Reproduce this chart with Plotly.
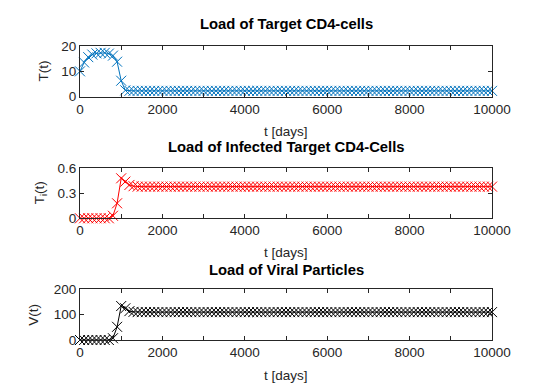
import plotly.graph_objects as go

# sample times (days)
t_days = [
    0, 100, 200, 300, 400, 500, 600, 700, 800, 900,
    1000, 1100, 1200, 1300, 1400, 1500, 1600, 1700, 1800, 1900,
    2000, 2100, 2200, 2300, 2400, 2500, 2600, 2700, 2800, 2900,
    3000, 3100, 3200, 3300, 3400, 3500, 3600, 3700, 3800, 3900,
    4000, 4100, 4200, 4300, 4400, 4500, 4600, 4700, 4800, 4900,
    5000, 5100, 5200, 5300, 5400, 5500, 5600, 5700, 5800, 5900,
    6000, 6100, 6200, 6300, 6400, 6500, 6600, 6700, 6800, 6900,
    7000, 7100, 7200, 7300, 7400, 7500, 7600, 7700, 7800, 7900,
    8000, 8100, 8200, 8300, 8400, 8500, 8600, 8700, 8800, 8900,
    9000, 9100, 9200, 9300, 9400, 9500, 9600, 9700, 9800, 9900,
    10000,
]

# target CD4 cells T(t)
target_cells = [
    10.0, 13.5, 15.6, 16.6, 17.1, 17.3, 17.3, 17.0, 16.2, 13.8,
    6.3, 2.5, 2.3, 2.3, 2.3, 2.3, 2.3, 2.3, 2.3, 2.3,
    2.3, 2.3, 2.3, 2.3, 2.3, 2.3, 2.3, 2.3, 2.3, 2.3,
    2.3, 2.3, 2.3, 2.3, 2.3, 2.3, 2.3, 2.3, 2.3, 2.3,
    2.3, 2.3, 2.3, 2.3, 2.3, 2.3, 2.3, 2.3, 2.3, 2.3,
    2.3, 2.3, 2.3, 2.3, 2.3, 2.3, 2.3, 2.3, 2.3, 2.3,
    2.3, 2.3, 2.3, 2.3, 2.3, 2.3, 2.3, 2.3, 2.3, 2.3,
    2.3, 2.3, 2.3, 2.3, 2.3, 2.3, 2.3, 2.3, 2.3, 2.3,
    2.3, 2.3, 2.3, 2.3, 2.3, 2.3, 2.3, 2.3, 2.3, 2.3,
    2.3, 2.3, 2.3, 2.3, 2.3, 2.3, 2.3, 2.3, 2.3, 2.3,
    2.3,
]

# infected target cells Ti(t)
infected_cells = [
    0.0, 0.0, 0.0, 0.0, 0.0, 0.0, 0.0, 0.0, 0.03, 0.18,
    0.48, 0.44, 0.40, 0.385, 0.38, 0.38, 0.38, 0.38, 0.38, 0.38,
    0.38, 0.38, 0.38, 0.38, 0.38, 0.38, 0.38, 0.38, 0.38, 0.38,
    0.38, 0.38, 0.38, 0.38, 0.38, 0.38, 0.38, 0.38, 0.38, 0.38,
    0.38, 0.38, 0.38, 0.38, 0.38, 0.38, 0.38, 0.38, 0.38, 0.38,
    0.38, 0.38, 0.38, 0.38, 0.38, 0.38, 0.38, 0.38, 0.38, 0.38,
    0.38, 0.38, 0.38, 0.38, 0.38, 0.38, 0.38, 0.38, 0.38, 0.38,
    0.38, 0.38, 0.38, 0.38, 0.38, 0.38, 0.38, 0.38, 0.38, 0.38,
    0.38, 0.38, 0.38, 0.38, 0.38, 0.38, 0.38, 0.38, 0.38, 0.38,
    0.38, 0.38, 0.38, 0.38, 0.38, 0.38, 0.38, 0.38, 0.38, 0.38,
    0.38,
]

# viral particles V(t)
viral_particles = [
    0, 0, 0, 0, 0, 0, 0, 0, 7, 52,
    134, 125, 114, 111, 110, 110, 110, 110, 110, 110,
    110, 110, 110, 110, 110, 110, 110, 110, 110, 110,
    110, 110, 110, 110, 110, 110, 110, 110, 110, 110,
    110, 110, 110, 110, 110, 110, 110, 110, 110, 110,
    110, 110, 110, 110, 110, 110, 110, 110, 110, 110,
    110, 110, 110, 110, 110, 110, 110, 110, 110, 110,
    110, 110, 110, 110, 110, 110, 110, 110, 110, 110,
    110, 110, 110, 110, 110, 110, 110, 110, 110, 110,
    110, 110, 110, 110, 110, 110, 110, 110, 110, 110,
    110,
]

panel_titles = [
    "Load of Target CD4-cells",
    "Load of Infected Target CD4-Cells",
    "Load of Viral Particles",
]
y_labels = ["T(t)", "T<sub>i</sub>(t)", "V(t)"]
y_ticks = [[0, 10, 20], [0, 0.3, 0.6], [0, 100, 200]]

FONT = "Liberation Sans, Arial, sans-serif"
GREY = "#262626"

series = [target_cells, infected_cells, viral_particles]
colors = ["#0072BD", "#FF0000", "#000000"]
domains = [[0.8276, 1.0], [0.414, 0.584], [0.0, 0.1724]]

fig = go.Figure()

axis_common = dict(
    showline=True,
    linecolor=GREY,
    linewidth=1,
    mirror="ticks",
    ticks="inside",
    ticklen=4,
    tickwidth=1,
    tickcolor=GREY,
    showgrid=False,
    zeroline=False,
    tickfont=dict(family=FONT, size=13.5, color=GREY),
)

for i, (ys, col) in enumerate(zip(series, colors)):
    n = "" if i == 0 else str(i + 1)
    fig.add_trace(
        go.Scatter(
            x=t_days,
            y=ys,
            mode="lines+markers",
            xaxis=f"x{n}",
            yaxis=f"y{n}",
            line=dict(color=col, width=1),
            marker=dict(
                symbol="x-thin",
                size=10,
                line=dict(color=col, width=1),
            ),
            showlegend=False,
            cliponaxis=False,
        )
    )

    fig.update_layout(
        {
            f"xaxis{n}": dict(
                axis_common,
                domain=[0, 1],
                anchor=f"y{n}",
                range=[0, 10000],
                tick0=0,
                dtick=2000,
                tickformat="d",
                minor=dict(
                    dtick=1000,
                    ticks="inside",
                    ticklen=4,
                    tickcolor=GREY,
                    showgrid=False,
                ),
            ),
            f"yaxis{n}": dict(
                axis_common,
                domain=domains[i],
                anchor=f"x{n}",
                range=[y_ticks[i][0], y_ticks[i][-1]],
                tickvals=y_ticks[i],
            ),
        }
    )

# page is shown with an 8px body margin, so pixel positions below are page
# coordinates of the reference; the plot area spans x 80..492, y 46..340
plot_left, plot_right = 80, 492
plot_top, plot_bottom = 46, 340

title_y = [24, 147, 269.5]
xlabel_y = [131.5, 252.5, 375]
ylabel_x = [43, 40, 34]
centers = [71.5, 193.3, 314.7]


def to_paper_y(py):
    return (plot_bottom - py) / (plot_bottom - plot_top)


def to_paper_x(px):
    return (px - plot_left) / (plot_right - plot_left)


annotations = []
for i in range(3):
    annotations.append(dict(
        text=f"<b>{panel_titles[i]}</b>",
        x=0.5, xref="paper", xanchor="center",
        y=to_paper_y(title_y[i]), yref="paper", yanchor="middle",
        showarrow=False,
        borderpad=0,
        font=dict(family=FONT, size=14.8, color="#000000"),
    ))
    annotations.append(dict(
        text="t [days]",
        x=0.5, xref="paper", xanchor="center",
        y=to_paper_y(xlabel_y[i]), yref="paper", yanchor="middle",
        showarrow=False,
        borderpad=0,
        font=dict(family=FONT, size=13.5, color=GREY),
    ))
    annotations.append(dict(
        text=y_labels[i],
        x=to_paper_x(ylabel_x[i]), xref="paper", xanchor="center",
        y=to_paper_y(centers[i]), yref="paper", yanchor="middle",
        textangle=-90,
        showarrow=False,
        borderpad=0,
        font=dict(family=FONT, size=13.5, color=GREY),
    ))

fig.update_layout(
    width=539,
    height=381,
    margin=dict(l=72, r=55, t=38, b=49),
    paper_bgcolor="white",
    plot_bgcolor="white",
    annotations=annotations,
)

fig.write_html("out.html")
